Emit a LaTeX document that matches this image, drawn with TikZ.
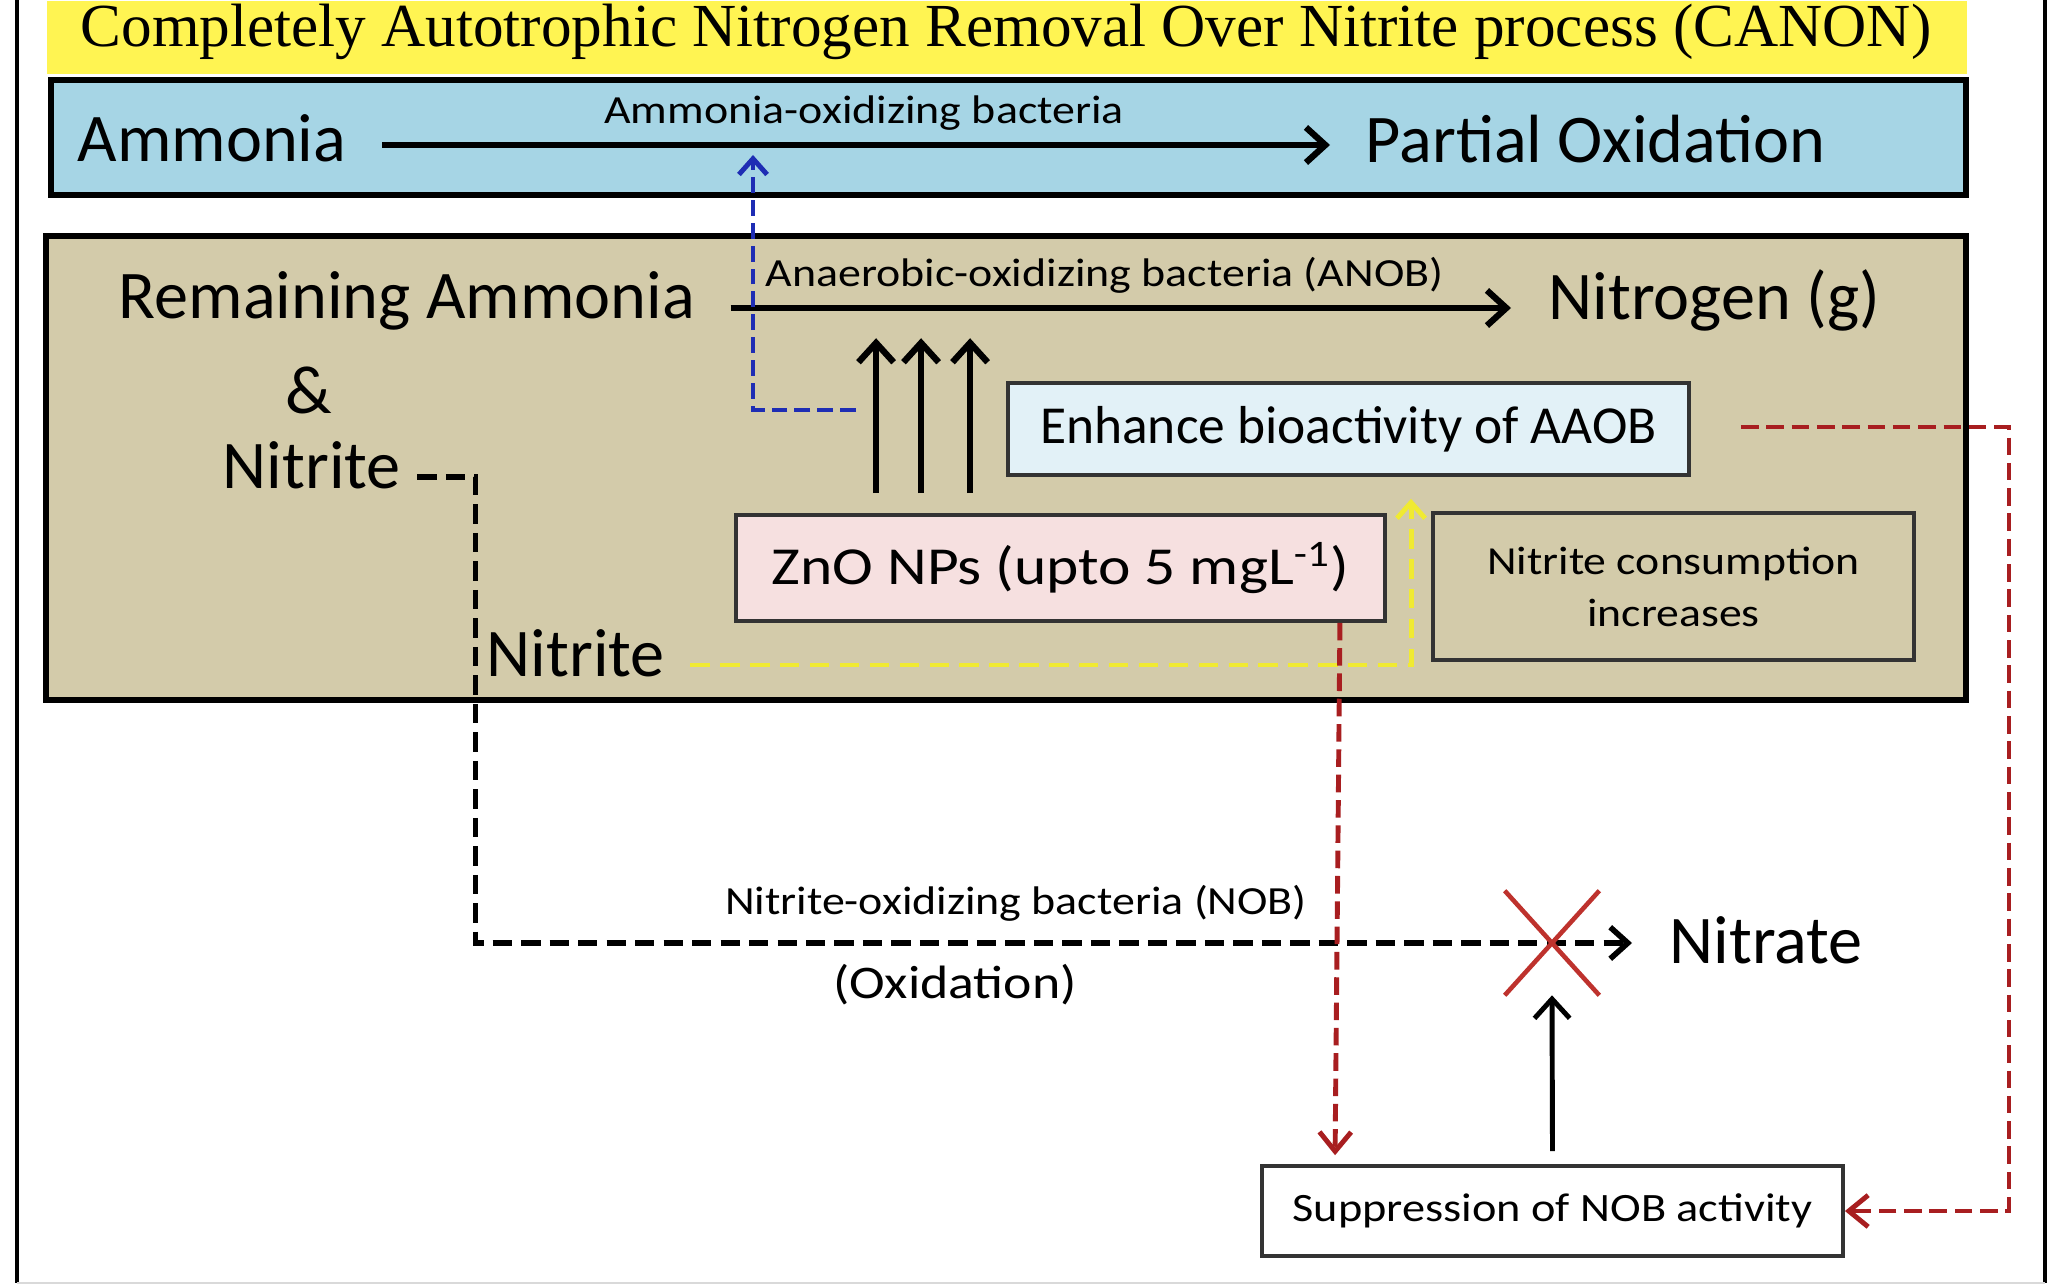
\documentclass[tikz,border=0pt]{standalone}
\usepackage{fontspec}
\setmainfont{Liberation Serif}
\newfontfamily\calib{Carlito}
\newfontfamily\calibw[FakeStretch=1.15]{Carlito}
\usepackage{xcolor}
\usepackage{tikz}
\usetikzlibrary{positioning, arrows.meta, calc, shapes.misc}

\definecolor{titleyellow}{RGB}{255,244,82}
\definecolor{aobblue}{RGB}{166,213,229}
\definecolor{anamtan}{RGB}{211,203,170}
\definecolor{enhblue}{RGB}{226,241,247}
\definecolor{znopink}{RGB}{246,224,224}
\definecolor{dashblue}{RGB}{30,45,180}
\definecolor{dashyellow}{RGB}{240,234,50}
\definecolor{dashred}{RGB}{168,30,32}
\definecolor{crossred}{RGB}{190,50,45}

\begin{document}
\begin{tikzpicture}[x=0.01cm, y=-0.01cm,
    panel/.style={rectangle, draw=black, line width=1.6pt, anchor=north west, inner sep=0pt},
    infobox/.style={rectangle, draw=black!80, line width=1pt, inner sep=0pt, align=center},
    big/.style={inner sep=0pt, anchor=base west, font=\calib\fontsize{19.4}{23}\selectfont},
    small/.style={inner sep=0pt, font=\calibw\fontsize{11.35}{14}\selectfont},
    arr/.style={-{Straight Barb[length=5.5pt, width=10pt]}, line width=1.8pt},
    dasharr/.style={dash pattern=on 5.5pt off 2.6pt, line width=1.6pt, -{Straight Barb[length=5pt, width=9pt]}},
    bluedash/.style={draw=dashblue, line width=1.4pt, dash pattern=on 4.5pt off 2pt, -{Straight Barb[length=4.5pt, width=8pt]}},
    yeldash/.style={draw=dashyellow, line width=1.4pt, dash pattern=on 5.5pt off 3pt, -{Straight Barb[length=4.5pt, width=8pt]}},
    reddash/.style={draw=dashred, line width=1.4pt, dash pattern=on 5pt off 2.2pt, -{Straight Barb[length=5.5pt, width=9pt]}}
]
\useasboundingbox (0,0) rectangle (2054,1285);

% outer frame
\draw[line width=1.2pt] (17,0) -- (17,1283);
\draw[line width=1.2pt] (2045,0) -- (2045,1283);
\draw[black!15, line width=0.5pt] (17,1283) -- (2045,1283);

% title
\node[fill=titleyellow, anchor=north west, minimum width=19.19cm, minimum height=0.73cm, inner sep=0pt] (band) at (46,0) {};
\node[anchor=base, inner sep=0pt, font=\fontsize{17.4}{20}\selectfont] (title) at (1006,47)
    {Completely Autotrophic Nitrogen Removal Over Nitrite process (CANON)};

% partial oxidation (top panel)
\node[panel, fill=aobblue, minimum width=19.14cm, minimum height=1.15cm] (aob) at (48,77) {};
\node[big] (ammonia) at (77,162) {Ammonia};
\node[big] (partox) at (1365,163) {Partial Oxidation};
\node[small, anchor=base] (aoblab) at (864,124) {Ammonia-oxidizing bacteria};

% anammox (middle panel)
\node[panel, fill=anamtan, minimum width=19.19cm, minimum height=4.64cm] (anam) at (43,233) {};
\node[big] (remamm) at (118,318) {Remaining Ammonia};
\node[big, anchor=base] (amp) at (309,413) {\&};
\node[big] (nitrite) at (222,488) {Nitrite};
\node[big] (nitrogen) at (1548,320) {Nitrogen (g)};
\node[small, anchor=base west] (anoblab) at (765,287) {Anaerobic-oxidizing bacteria (ANOB)};

\node[infobox, fill=enhblue, minimum width=6.81cm, minimum height=0.92cm,
      font=\calib\fontsize{15.2}{18}\selectfont] (enhance) at (1348.5,429) {Enhance bioactivity of AAOB};
\node[infobox, fill=znopink, minimum width=6.49cm, minimum height=1.06cm,
      font=\calibw\fontsize{15.2}{18}\selectfont] (zno) at (1060.5,568) {ZnO NPs (upto 5 mgL\textsuperscript{-1})};
\node[infobox, fill=anamtan, minimum width=4.81cm, minimum height=1.47cm,
      font=\calibw\fontsize{11.3}{14.8}\selectfont] (nitcons) at (1673.5,586.5) {Nitrite consumption\\increases};
\node[big] (nitrite2) at (486,676) {Nitrite};

% nitrite oxidation (bottom)
\node[big] (nitrate) at (1669,963) {Nitrate};
\node[small, anchor=base] (noblab) at (1016,914) {Nitrite-oxidizing bacteria (NOB)};
\node[small, anchor=base, font=\calibw\fontsize{13.3}{16}\selectfont] (oxlab) at (955,998) {(Oxidation)};
\node[infobox, fill=white, minimum width=5.81cm, minimum height=0.9cm,
      font=\calibw\fontsize{11.45}{14}\selectfont] (suppress) at (1552.5,1211) {Suppression of NOB activity};

% main reactions
\draw[arr] ($(ammonia.base east)+(35,-17)$) -- ($(partox.base west)+(-35,-18)$);
\draw[arr] ($(remamm.base east)+(35,-10)$) -- ($(nitrogen.base west)+(-37,-12)$);
\draw[dasharr] ($(nitrite.base east)+(16,-11)$) -- ++(58,0) |- ($(nitrate.base west)+(-37,-20)$);

% ZnO effects
\foreach \dx in {142,187,236}
    \draw[arr] ($(zno.north west)+(\dx,-20)$) -- ++(0,-155);
\coordinate (bluefoot) at (856,410);
\coordinate (aobhit) at (753,155);
\draw[bluedash] (bluefoot) -| (aobhit);
\draw[yeldash] ($(nitrite2.base east)+(25,-11)$) -| ($(enhance.south west)+(405,22)$);
\draw[reddash] ($(zno.south east)+(-47,0)$) -- ($(suppress.north west)+(75,-9)$);
\draw[reddash] ($(enhance.east)+(50,-2)$) -- ++(268,0) |- (suppress.east);

% NOB blocked
\node[cross out, draw=crossred, line width=1.3pt, minimum width=0.9cm, minimum height=1cm, inner sep=0pt] (cross) at (1552,943) {};
\draw[arr, line width=1.4pt] ($(suppress.north)+(0,-13)$) -- (cross.south);

\end{tikzpicture}
\end{document}
